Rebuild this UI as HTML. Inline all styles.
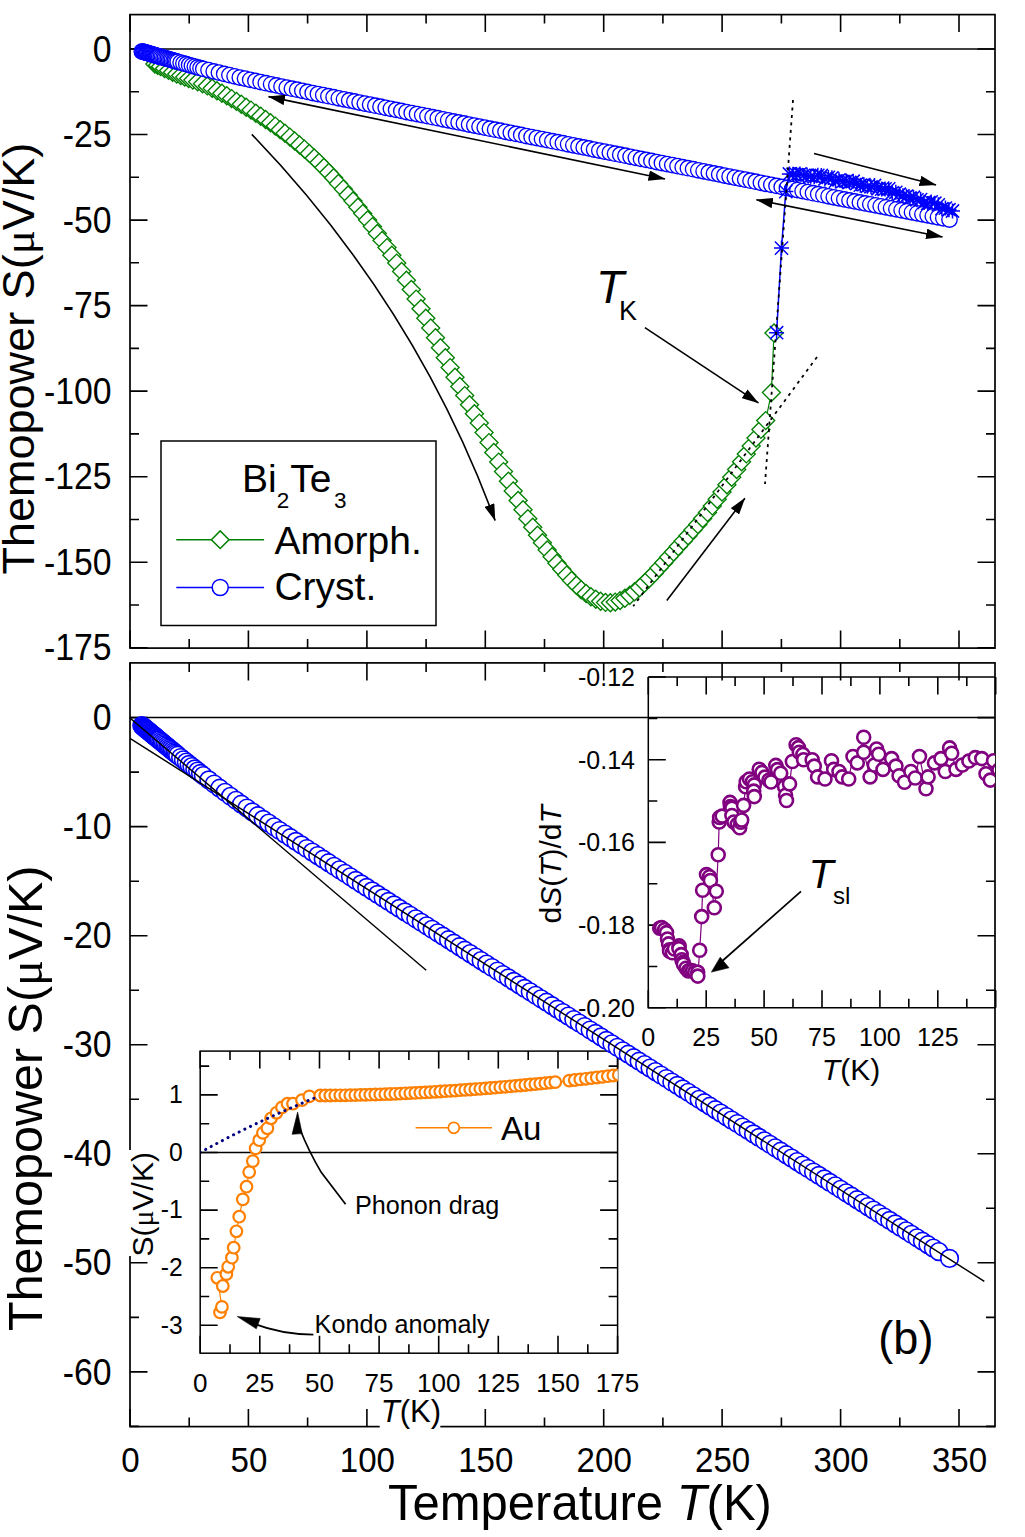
<!DOCTYPE html><html><head><meta charset="utf-8"><style>html,body{margin:0;padding:0;background:#fff;width:1025px;height:1537px;overflow:hidden}</style></head><body><svg width="1025" height="1537" viewBox="0 0 1025 1537" style="position:absolute;left:0;top:0">
<rect width="100%" height="100%" fill="#fff"/>
<defs><clipPath id="cTop"><rect x="130" y="14.6" width="865" height="633.5"/></clipPath>
<clipPath id="cBot"><rect x="130" y="662.9" width="865" height="763.7"/></clipPath>
<marker id="ah" viewBox="0 0 17 10.5" refX="16.5" refY="5.25" markerWidth="17" markerHeight="10.5" markerUnits="userSpaceOnUse" orient="auto-start-reverse"><path d="M0,0 L17,5.25 L0,10.5 z" fill="#000"/></marker>
</defs>
<rect x="130" y="14.6" width="865" height="633.5" fill="none" stroke="#000" stroke-width="1.7"/>
<path d="M130,14.6V32.1M248.4,14.6V32.1M366.9,14.6V32.1M485.3,14.6V32.1M603.7,14.6V32.1M722.1,14.6V32.1M840.6,14.6V32.1M959,14.6V32.1M189.2,14.6V23.6M307.6,14.6V23.6M426.1,14.6V23.6M544.5,14.6V23.6M662.9,14.6V23.6M781.4,14.6V23.6M899.8,14.6V23.6" stroke="#000" stroke-width="1.6" fill="none"/>
<path d="M130,648.1V630.6M248.4,648.1V630.6M366.9,648.1V630.6M485.3,648.1V630.6M603.7,648.1V630.6M722.1,648.1V630.6M840.6,648.1V630.6M959,648.1V630.6M189.2,648.1V639.1M307.6,648.1V639.1M426.1,648.1V639.1M544.5,648.1V639.1M662.9,648.1V639.1M781.4,648.1V639.1M899.8,648.1V639.1" stroke="#000" stroke-width="1.6" fill="none"/>
<path d="M130,49H147.5M130,134.5H147.5M130,220.1H147.5M130,305.6H147.5M130,391.1H147.5M130,476.7H147.5M130,562.2H147.5M130,647.8H147.5M130,91.7H139M130,177.3H139M130,262.8H139M130,348.4H139M130,433.9H139M130,519.5H139M130,605H139" stroke="#000" stroke-width="1.6" fill="none"/>
<path d="M995,49H977.5M995,134.5H977.5M995,220.1H977.5M995,305.6H977.5M995,391.1H977.5M995,476.7H977.5M995,562.2H977.5M995,647.8H977.5M995,91.7H986M995,177.3H986M995,262.8H986M995,348.4H986M995,433.9H986M995,519.5H986M995,605H986" stroke="#000" stroke-width="1.6" fill="none"/>
<text transform="translate(111.5,61.6) scale(0.93,1)" font-family="Liberation Sans" font-size="36.3" text-anchor="end">0</text>
<text transform="translate(111.5,147.1) scale(0.93,1)" font-family="Liberation Sans" font-size="36.3" text-anchor="end">-25</text>
<text transform="translate(111.5,232.7) scale(0.93,1)" font-family="Liberation Sans" font-size="36.3" text-anchor="end">-50</text>
<text transform="translate(111.5,318.2) scale(0.93,1)" font-family="Liberation Sans" font-size="36.3" text-anchor="end">-75</text>
<text transform="translate(111.5,403.8) scale(0.93,1)" font-family="Liberation Sans" font-size="36.3" text-anchor="end">-100</text>
<text transform="translate(111.5,489.3) scale(0.93,1)" font-family="Liberation Sans" font-size="36.3" text-anchor="end">-125</text>
<text transform="translate(111.5,574.9) scale(0.93,1)" font-family="Liberation Sans" font-size="36.3" text-anchor="end">-150</text>
<text transform="translate(111.5,660.4) scale(0.93,1)" font-family="Liberation Sans" font-size="36.3" text-anchor="end">-175</text>
<g clip-path="url(#cTop)">
<path d="M130,49H995" stroke="#000" stroke-width="1.5"/>
<path d="M760.9,429.4 L765.7,420.6 L771.4,392.5 L774,333" stroke="#008000" stroke-width="1.2" fill="none"/>
<g stroke="#008000" stroke-width="1.35" fill="#fff"><path d="M145.9,64L154.9,55L163.9,64L154.9,73Z"/><path d="M148.7,65.3L157.7,56.3L166.7,65.3L157.7,74.3Z"/><path d="M151.6,66.6L160.6,57.6L169.6,66.6L160.6,75.6Z"/><path d="M155.6,68.5L164.6,59.5L173.6,68.5L164.6,77.5Z"/><path d="M159.6,70.4L168.6,61.4L177.6,70.4L168.6,79.4Z"/><path d="M163.6,72.2L172.6,63.2L181.6,72.2L172.6,81.2Z"/><path d="M167.7,74L176.7,65L185.7,74L176.7,83Z"/><path d="M171.7,75.6L180.7,66.6L189.7,75.6L180.7,84.6Z"/><path d="M175.7,77.1L184.7,68.1L193.7,77.1L184.7,86.1Z"/><path d="M179.7,78.6L188.7,69.6L197.7,78.6L188.7,87.6Z"/><path d="M183.8,80L192.8,71L201.8,80L192.8,89Z"/><path d="M188.6,81.8L197.6,72.8L206.6,81.8L197.6,90.8Z"/><path d="M193.5,83.7L202.5,74.7L211.5,83.7L202.5,92.7Z"/><path d="M198.3,85.9L207.3,76.9L216.3,85.9L207.3,94.9Z"/><path d="M203.2,88.2L212.2,79.2L221.2,88.2L212.2,97.2Z"/><path d="M208,90.7L217,81.7L226,90.7L217,99.7Z"/><path d="M212.9,93.2L221.9,84.2L230.9,93.2L221.9,102.2Z"/><path d="M217.8,95.8L226.8,86.8L235.8,95.8L226.8,104.8Z"/><path d="M222.6,98.6L231.6,89.6L240.6,98.6L231.6,107.6Z"/><path d="M227.5,101.4L236.5,92.4L245.5,101.4L236.5,110.4Z"/><path d="M232.3,104.2L241.3,95.2L250.3,104.2L241.3,113.2Z"/><path d="M237.2,107.2L246.2,98.2L255.2,107.2L246.2,116.2Z"/><path d="M242,110.1L251,101.1L260,110.1L251,119.1Z"/><path d="M246.9,113.2L255.9,104.2L264.9,113.2L255.9,122.2Z"/><path d="M251.7,116.3L260.7,107.3L269.7,116.3L260.7,125.3Z"/><path d="M256.6,119.5L265.6,110.5L274.6,119.5L265.6,128.5Z"/><path d="M261.5,122.7L270.5,113.7L279.5,122.7L270.5,131.7Z"/><path d="M266.3,126.1L275.3,117.1L284.3,126.1L275.3,135.1Z"/><path d="M271.2,129.7L280.2,120.7L289.2,129.7L280.2,138.7Z"/><path d="M276,133.3L285,124.3L294,133.3L285,142.3Z"/><path d="M280.9,137.1L289.9,128.1L298.9,137.1L289.9,146.1Z"/><path d="M285.7,141L294.7,132L303.7,141L294.7,150Z"/><path d="M290.6,145L299.6,136L308.6,145L299.6,154Z"/><path d="M295.4,149.1L304.4,140.1L313.4,149.1L304.4,158.1Z"/><path d="M300.3,153.4L309.3,144.4L318.3,153.4L309.3,162.4Z"/><path d="M305.2,157.9L314.2,148.9L323.2,157.9L314.2,166.9Z"/><path d="M310,162.5L319,153.5L328,162.5L319,171.5Z"/><path d="M314.9,167.4L323.9,158.4L332.9,167.4L323.9,176.4Z"/><path d="M319.7,172.5L328.7,163.5L337.7,172.5L328.7,181.5Z"/><path d="M324.6,177.8L333.6,168.8L342.6,177.8L333.6,186.8Z"/><path d="M329.4,183.4L338.4,174.4L347.4,183.4L338.4,192.4Z"/><path d="M334.3,189.1L343.3,180.1L352.3,189.1L343.3,198.1Z"/><path d="M339.1,195L348.1,186L357.1,195L348.1,204Z"/><path d="M344,201L353,192L362,201L353,210Z"/><path d="M348.9,207.2L357.9,198.2L366.9,207.2L357.9,216.2Z"/><path d="M353.7,213.6L362.7,204.6L371.7,213.6L362.7,222.6Z"/><path d="M358.6,220L367.6,211L376.6,220L367.6,229Z"/><path d="M363.4,226.6L372.4,217.6L381.4,226.6L372.4,235.6Z"/><path d="M368.3,233.4L377.3,224.4L386.3,233.4L377.3,242.4Z"/><path d="M373.1,240.4L382.1,231.4L391.1,240.4L382.1,249.4Z"/><path d="M378,247.6L387,238.6L396,247.6L387,256.6Z"/><path d="M382.8,255.2L391.8,246.2L400.8,255.2L391.8,264.2Z"/><path d="M387.7,263.1L396.7,254.1L405.7,263.1L396.7,272.1Z"/><path d="M392.6,271.4L401.6,262.4L410.6,271.4L401.6,280.4Z"/><path d="M397.4,280.3L406.4,271.3L415.4,280.3L406.4,289.3Z"/><path d="M402.3,289.5L411.3,280.5L420.3,289.5L411.3,298.5Z"/><path d="M407.1,299.1L416.1,290.1L425.1,299.1L416.1,308.1Z"/><path d="M412,308.7L421,299.7L430,308.7L421,317.7Z"/><path d="M416.8,318.3L425.8,309.3L434.8,318.3L425.8,327.3Z"/><path d="M421.7,327.9L430.7,318.9L439.7,327.9L430.7,336.9Z"/><path d="M426.5,337.8L435.5,328.8L444.5,337.8L435.5,346.8Z"/><path d="M431.4,347.8L440.4,338.8L449.4,347.8L440.4,356.8Z"/><path d="M436.3,357.8L445.3,348.8L454.3,357.8L445.3,366.8Z"/><path d="M441.1,367.6L450.1,358.6L459.1,367.6L450.1,376.6Z"/><path d="M446,377.2L455,368.2L464,377.2L455,386.2Z"/><path d="M450.8,386.5L459.8,377.5L468.8,386.5L459.8,395.5Z"/><path d="M455.7,395.6L464.7,386.6L473.7,395.6L464.7,404.6Z"/><path d="M460.5,404.7L469.5,395.7L478.5,404.7L469.5,413.7Z"/><path d="M465.4,413.8L474.4,404.8L483.4,413.8L474.4,422.8Z"/><path d="M470.3,423.1L479.3,414.1L488.3,423.1L479.3,432.1Z"/><path d="M475.1,432.6L484.1,423.6L493.1,432.6L484.1,441.6Z"/><path d="M480,442.6L489,433.6L498,442.6L489,451.6Z"/><path d="M484.8,452.5L493.8,443.5L502.8,452.5L493.8,461.5Z"/><path d="M489.7,462.1L498.7,453.1L507.7,462.1L498.7,471.1Z"/><path d="M494.5,471.6L503.5,462.6L512.5,471.6L503.5,480.6Z"/><path d="M499.4,481.3L508.4,472.3L517.4,481.3L508.4,490.3Z"/><path d="M504.2,490.9L513.2,481.9L522.2,490.9L513.2,499.9Z"/><path d="M509.1,500.5L518.1,491.5L527.1,500.5L518.1,509.5Z"/><path d="M514,509.8L523,500.8L532,509.8L523,518.8Z"/><path d="M518.8,518.8L527.8,509.8L536.8,518.8L527.8,527.8Z"/><path d="M523.7,527.3L532.7,518.3L541.7,527.3L532.7,536.3Z"/><path d="M528.5,535.2L537.5,526.2L546.5,535.2L537.5,544.2Z"/><path d="M533.4,542.7L542.4,533.7L551.4,542.7L542.4,551.7Z"/><path d="M538.2,549.9L547.2,540.9L556.2,549.9L547.2,558.9Z"/><path d="M543.1,556.8L552.1,547.8L561.1,556.8L552.1,565.8Z"/><path d="M547.9,563.2L556.9,554.2L565.9,563.2L556.9,572.2Z"/><path d="M552.8,569.3L561.8,560.3L570.8,569.3L561.8,578.3Z"/><path d="M557.7,575.1L566.7,566.1L575.7,575.1L566.7,584.1Z"/><path d="M562.5,580.4L571.5,571.4L580.5,580.4L571.5,589.4Z"/><path d="M567.4,585.3L576.4,576.3L585.4,585.3L576.4,594.3Z"/><path d="M572.2,589.7L581.2,580.7L590.2,589.7L581.2,598.7Z"/><path d="M577.1,593.5L586.1,584.5L595.1,593.5L586.1,602.5Z"/><path d="M581.9,596.8L590.9,587.8L599.9,596.8L590.9,605.8Z"/><path d="M586.8,599.3L595.8,590.3L604.8,599.3L595.8,608.3Z"/><path d="M591.6,601.2L600.6,592.2L609.6,601.2L600.6,610.2Z"/><path d="M596.5,602.4L605.5,593.4L614.5,602.4L605.5,611.4Z"/><path d="M601.4,602.8L610.4,593.8L619.4,602.8L610.4,611.8Z"/><path d="M606.2,602.1L615.2,593.1L624.2,602.1L615.2,611.1Z"/><path d="M611.1,600.6L620.1,591.6L629.1,600.6L620.1,609.6Z"/><path d="M615.9,598.2L624.9,589.2L633.9,598.2L624.9,607.2Z"/><path d="M620.8,595.3L629.8,586.3L638.8,595.3L629.8,604.3Z"/><path d="M625.6,591.7L634.6,582.7L643.6,591.7L634.6,600.7Z"/><path d="M630.5,587.8L639.5,578.8L648.5,587.8L639.5,596.8Z"/><path d="M635.3,583.3L644.3,574.3L653.3,583.3L644.3,592.3Z"/><path d="M640.2,578.5L649.2,569.5L658.2,578.5L649.2,587.5Z"/><path d="M645.1,573.4L654.1,564.4L663.1,573.4L654.1,582.4Z"/><path d="M649.9,568.1L658.9,559.1L667.9,568.1L658.9,577.1Z"/><path d="M654.8,562.7L663.8,553.7L672.8,562.7L663.8,571.7Z"/><path d="M659.6,557.3L668.6,548.3L677.6,557.3L668.6,566.3Z"/><path d="M664.5,551.9L673.5,542.9L682.5,551.9L673.5,560.9Z"/><path d="M669.3,546.5L678.3,537.5L687.3,546.5L678.3,555.5Z"/><path d="M674.2,541.1L683.2,532.1L692.2,541.1L683.2,550.1Z"/><path d="M679,535.7L688,526.7L697,535.7L688,544.7Z"/><path d="M683.9,530.1L692.9,521.1L701.9,530.1L692.9,539.1Z"/><path d="M688.8,524.4L697.8,515.4L706.8,524.4L697.8,533.4Z"/><path d="M693.6,518.5L702.6,509.5L711.6,518.5L702.6,527.5Z"/><path d="M698.5,512.4L707.5,503.4L716.5,512.4L707.5,521.4Z"/><path d="M703.3,505.9L712.3,496.9L721.3,505.9L712.3,514.9Z"/><path d="M708.2,499.2L717.2,490.2L726.2,499.2L717.2,508.2Z"/><path d="M713,492.1L722,483.1L731,492.1L722,501.1Z"/><path d="M717.9,484.8L726.9,475.8L735.9,484.8L726.9,493.8Z"/><path d="M722.7,477.2L731.7,468.2L740.7,477.2L731.7,486.2Z"/><path d="M727.6,469.5L736.6,460.5L745.6,469.5L736.6,478.5Z"/><path d="M732.5,461.8L741.5,452.8L750.5,461.8L741.5,470.8Z"/><path d="M737.3,453.9L746.3,444.9L755.3,453.9L746.3,462.9Z"/><path d="M742.2,446.1L751.2,437.1L760.2,446.1L751.2,455.1Z"/><path d="M747,438L756,429L765,438L756,447Z"/><path d="M751.9,429.4L760.9,420.4L769.9,429.4L760.9,438.4Z"/><path d="M756.7,420.6L765.7,411.6L774.7,420.6L765.7,429.6Z"/><path d="M762.4,392.5L771.4,383.5L780.4,392.5L771.4,401.5Z"/><path d="M765,333L774,324L783,333L774,342Z"/></g>
<g stroke="#0000ff" stroke-width="1.35" fill="#fff"><circle cx="141.8" cy="51.5" r="7.7"/><circle cx="142.7" cy="51.7" r="7.7"/><circle cx="143.5" cy="51.9" r="7.7"/><circle cx="144.3" cy="52.2" r="7.7"/><circle cx="145.2" cy="52.4" r="7.7"/><circle cx="146" cy="52.7" r="7.7"/><circle cx="146.8" cy="52.9" r="7.7"/><circle cx="147.6" cy="53.1" r="7.7"/><circle cx="148.5" cy="53.4" r="7.7"/><circle cx="149.3" cy="53.6" r="7.7"/><circle cx="150.1" cy="53.9" r="7.7"/><circle cx="151" cy="54.1" r="7.7"/><circle cx="151.8" cy="54.3" r="7.7"/><circle cx="152.6" cy="54.6" r="7.7"/><circle cx="153.4" cy="54.8" r="7.7"/><circle cx="154.3" cy="55.1" r="7.7"/><circle cx="155.1" cy="55.3" r="7.7"/><circle cx="155.9" cy="55.5" r="7.7"/><circle cx="156.8" cy="55.8" r="7.7"/><circle cx="157.6" cy="56" r="7.7"/><circle cx="158.4" cy="56.3" r="7.7"/><circle cx="159.3" cy="56.5" r="7.7"/><circle cx="160.7" cy="56.9" r="7.7"/><circle cx="162.1" cy="57.3" r="7.7"/><circle cx="163.5" cy="57.7" r="7.7"/><circle cx="164.9" cy="58.1" r="7.7"/><circle cx="166.4" cy="58.5" r="7.7"/><circle cx="167.8" cy="58.9" r="7.7"/><circle cx="169.2" cy="59.4" r="7.7"/><circle cx="170.6" cy="59.8" r="7.7"/><circle cx="172" cy="60.2" r="7.7"/><circle cx="173.5" cy="60.6" r="7.7"/><circle cx="174.9" cy="61" r="7.7"/><circle cx="176.3" cy="61.4" r="7.7"/><circle cx="177.7" cy="61.8" r="7.7"/><circle cx="180.6" cy="62.6" r="7.7"/><circle cx="183.4" cy="63.4" r="7.7"/><circle cx="186.3" cy="64.2" r="7.7"/><circle cx="189.1" cy="65" r="7.7"/><circle cx="191.9" cy="65.8" r="7.7"/><circle cx="194.8" cy="66.6" r="7.7"/><circle cx="197.6" cy="67.4" r="7.7"/><circle cx="200.5" cy="68.2" r="7.7"/><circle cx="203.3" cy="68.9" r="7.7"/><circle cx="208.5" cy="70.1" r="7.7"/><circle cx="213.7" cy="71.4" r="7.7"/><circle cx="218.9" cy="72.6" r="7.7"/><circle cx="224.2" cy="73.9" r="7.7"/><circle cx="229.4" cy="75.1" r="7.7"/><circle cx="234.6" cy="76.3" r="7.7"/><circle cx="239.8" cy="77.5" r="7.7"/><circle cx="245" cy="78.6" r="7.7"/><circle cx="250.2" cy="79.8" r="7.7"/><circle cx="255.4" cy="80.9" r="7.7"/><circle cx="260.6" cy="82" r="7.7"/><circle cx="265.8" cy="83.2" r="7.7"/><circle cx="271.1" cy="84.3" r="7.7"/><circle cx="276.3" cy="85.4" r="7.7"/><circle cx="281.5" cy="86.5" r="7.7"/><circle cx="286.7" cy="87.6" r="7.7"/><circle cx="291.9" cy="88.7" r="7.7"/><circle cx="297.1" cy="89.7" r="7.7"/><circle cx="302.3" cy="90.8" r="7.7"/><circle cx="307.5" cy="91.9" r="7.7"/><circle cx="312.7" cy="93" r="7.7"/><circle cx="317.9" cy="94" r="7.7"/><circle cx="323.2" cy="95.1" r="7.7"/><circle cx="328.4" cy="96.2" r="7.7"/><circle cx="333.6" cy="97.2" r="7.7"/><circle cx="338.8" cy="98.3" r="7.7"/><circle cx="344" cy="99.3" r="7.7"/><circle cx="349.2" cy="100.4" r="7.7"/><circle cx="354.4" cy="101.4" r="7.7"/><circle cx="359.6" cy="102.5" r="7.7"/><circle cx="364.8" cy="103.6" r="7.7"/><circle cx="370.1" cy="104.6" r="7.7"/><circle cx="375.3" cy="105.7" r="7.7"/><circle cx="380.5" cy="106.7" r="7.7"/><circle cx="385.7" cy="107.8" r="7.7"/><circle cx="390.9" cy="108.8" r="7.7"/><circle cx="396.1" cy="109.9" r="7.7"/><circle cx="401.3" cy="110.9" r="7.7"/><circle cx="406.5" cy="112" r="7.7"/><circle cx="411.7" cy="113" r="7.7"/><circle cx="417" cy="114" r="7.7"/><circle cx="422.2" cy="115.1" r="7.7"/><circle cx="427.4" cy="116.1" r="7.7"/><circle cx="432.6" cy="117.2" r="7.7"/><circle cx="437.8" cy="118.2" r="7.7"/><circle cx="443" cy="119.3" r="7.7"/><circle cx="448.2" cy="120.3" r="7.7"/><circle cx="453.4" cy="121.4" r="7.7"/><circle cx="458.6" cy="122.4" r="7.7"/><circle cx="463.9" cy="123.4" r="7.7"/><circle cx="469.1" cy="124.5" r="7.7"/><circle cx="474.3" cy="125.5" r="7.7"/><circle cx="479.5" cy="126.6" r="7.7"/><circle cx="484.7" cy="127.6" r="7.7"/><circle cx="489.9" cy="128.7" r="7.7"/><circle cx="495.1" cy="129.7" r="7.7"/><circle cx="500.3" cy="130.7" r="7.7"/><circle cx="505.5" cy="131.8" r="7.7"/><circle cx="510.8" cy="132.8" r="7.7"/><circle cx="516" cy="133.9" r="7.7"/><circle cx="521.2" cy="134.9" r="7.7"/><circle cx="526.4" cy="136" r="7.7"/><circle cx="531.6" cy="137" r="7.7"/><circle cx="536.8" cy="138" r="7.7"/><circle cx="542" cy="139.1" r="7.7"/><circle cx="547.2" cy="140.1" r="7.7"/><circle cx="552.4" cy="141.2" r="7.7"/><circle cx="557.7" cy="142.2" r="7.7"/><circle cx="562.9" cy="143.2" r="7.7"/><circle cx="568.1" cy="144.3" r="7.7"/><circle cx="573.3" cy="145.3" r="7.7"/><circle cx="578.5" cy="146.4" r="7.7"/><circle cx="583.7" cy="147.4" r="7.7"/><circle cx="588.9" cy="148.4" r="7.7"/><circle cx="594.1" cy="149.5" r="7.7"/><circle cx="599.3" cy="150.5" r="7.7"/><circle cx="604.5" cy="151.6" r="7.7"/><circle cx="609.8" cy="152.6" r="7.7"/><circle cx="615" cy="153.7" r="7.7"/><circle cx="620.2" cy="154.7" r="7.7"/><circle cx="625.4" cy="155.7" r="7.7"/><circle cx="630.6" cy="156.8" r="7.7"/><circle cx="635.8" cy="157.8" r="7.7"/><circle cx="641" cy="158.9" r="7.7"/><circle cx="646.2" cy="159.9" r="7.7"/><circle cx="651.4" cy="160.9" r="7.7"/><circle cx="656.7" cy="162" r="7.7"/><circle cx="661.9" cy="163" r="7.7"/><circle cx="667.1" cy="164.1" r="7.7"/><circle cx="672.3" cy="165.1" r="7.7"/><circle cx="677.5" cy="166.1" r="7.7"/><circle cx="682.7" cy="167.2" r="7.7"/><circle cx="687.9" cy="168.2" r="7.7"/><circle cx="693.1" cy="169.2" r="7.7"/><circle cx="698.3" cy="170.3" r="7.7"/><circle cx="703.6" cy="171.3" r="7.7"/><circle cx="708.8" cy="172.4" r="7.7"/><circle cx="714" cy="173.4" r="7.7"/><circle cx="719.2" cy="174.4" r="7.7"/><circle cx="724.4" cy="175.5" r="7.7"/><circle cx="729.6" cy="176.5" r="7.7"/><circle cx="734.8" cy="177.6" r="7.7"/><circle cx="740" cy="178.6" r="7.7"/><circle cx="745.2" cy="179.6" r="7.7"/><circle cx="750.5" cy="180.7" r="7.7"/><circle cx="755.7" cy="181.7" r="7.7"/><circle cx="760.9" cy="182.8" r="7.7"/><circle cx="766.1" cy="183.8" r="7.7"/><circle cx="771.3" cy="184.8" r="7.7"/><circle cx="776.5" cy="185.9" r="7.7"/><circle cx="781.7" cy="186.9" r="7.7"/><circle cx="786.9" cy="188" r="7.7"/><circle cx="792.1" cy="189" r="7.7"/><circle cx="797.4" cy="190" r="7.7"/><circle cx="802.6" cy="191.1" r="7.7"/><circle cx="807.8" cy="192.1" r="7.7"/><circle cx="813" cy="193.2" r="7.7"/><circle cx="818.2" cy="194.2" r="7.7"/><circle cx="823.4" cy="195.2" r="7.7"/><circle cx="828.6" cy="196.3" r="7.7"/><circle cx="833.8" cy="197.3" r="7.7"/><circle cx="839" cy="198.3" r="7.7"/><circle cx="844.3" cy="199.4" r="7.7"/><circle cx="849.5" cy="200.4" r="7.7"/><circle cx="854.7" cy="201.4" r="7.7"/><circle cx="859.9" cy="202.4" r="7.7"/><circle cx="865.1" cy="203.4" r="7.7"/><circle cx="870.3" cy="204.3" r="7.7"/><circle cx="875.5" cy="205.3" r="7.7"/><circle cx="880.7" cy="206.3" r="7.7"/><circle cx="885.9" cy="207.3" r="7.7"/><circle cx="891.1" cy="208.3" r="7.7"/><circle cx="896.4" cy="209.3" r="7.7"/><circle cx="901.6" cy="210.3" r="7.7"/><circle cx="906.8" cy="211.3" r="7.7"/><circle cx="912" cy="212.3" r="7.7"/><circle cx="917.2" cy="213.3" r="7.7"/><circle cx="922.4" cy="214.3" r="7.7"/><circle cx="927.6" cy="215.3" r="7.7"/><circle cx="932.8" cy="216.3" r="7.7"/><circle cx="938" cy="217.3" r="7.7"/><circle cx="943.3" cy="218.3" r="7.7"/><circle cx="949.5" cy="219.5" r="7.7"/></g>
<path d="M776.6,332.7 L781.5,248.1 L785.8,191.6 L789.4,174" stroke="#0000ff" stroke-width="1.5" fill="none"/>
<path d="M769.1,332.7H784.1M770,326.1L783.2,339.3M770,339.3L783.2,326.1M776.6,325.2V340.2M774,248.1H789M774.9,241.5L788.1,254.7M774.9,254.7L788.1,241.5M781.5,240.6V255.6M778.3,191.6H793.3M779.2,185L792.4,198.2M779.2,198.2L792.4,185M785.8,184.1V199.1M781.9,174H796.9M782.8,167.4L796,180.6M782.8,180.6L796,167.4M789.4,166.5V181.5M785.4,174.3H800.4M786.3,167.7L799.5,180.9M786.3,180.9L799.5,167.7M792.9,166.8V181.8M789,174.6H804M789.9,168L803.1,181.2M789.9,181.2L803.1,168M796.5,167.1V182.1M792.5,173.9H807.5M793.4,167.3L806.6,180.5M793.4,180.5L806.6,167.3M800,166.4V181.4M796.1,175.4H811.1M797,168.8L810.2,182M797,182L810.2,168.8M803.6,167.9V182.9M799.6,175.1H814.6M800.5,168.5L813.7,181.7M800.5,181.7L813.7,168.5M807.1,167.6V182.6M803.2,176.3H818.2M804.1,169.7L817.3,182.9M804.1,182.9L817.3,169.7M810.7,168.8V183.8M806.7,176.8H821.7M807.6,170.2L820.8,183.4M807.6,183.4L820.8,170.2M814.2,169.3V184.3M810.3,175.3H825.3M811.2,168.7L824.4,181.9M811.2,181.9L824.4,168.7M817.8,167.8V182.8M813.8,175.5H828.8M814.7,168.9L827.9,182.1M814.7,182.1L827.9,168.9M821.3,168V183M817.4,179H832.4M818.3,172.4L831.5,185.6M818.3,185.6L831.5,172.4M824.9,171.5V186.5M820.9,177.4H835.9M821.8,170.8L835,184M821.8,184L835,170.8M828.4,169.9V184.9M824.4,177.8H839.4M825.3,171.2L838.5,184.4M825.3,184.4L838.5,171.2M831.9,170.3V185.3M828,181.1H843M828.9,174.5L842.1,187.7M828.9,187.7L842.1,174.5M835.5,173.6V188.6M831.5,179.8H846.5M832.4,173.2L845.6,186.4M832.4,186.4L845.6,173.2M839,172.3V187.3M835.1,181.7H850.1M836,175.1L849.2,188.3M836,188.3L849.2,175.1M842.6,174.2V189.2M838.6,181.1H853.6M839.5,174.5L852.7,187.7M839.5,187.7L852.7,174.5M846.1,173.6V188.6M842.2,182.3H857.2M843.1,175.7L856.3,188.9M843.1,188.9L856.3,175.7M849.7,174.8V189.8M845.7,181.2H860.7M846.6,174.6L859.8,187.8M846.6,187.8L859.8,174.6M853.2,173.7V188.7M849.3,183.7H864.3M850.2,177.1L863.4,190.3M850.2,190.3L863.4,177.1M856.8,176.2V191.2M852.8,185.2H867.8M853.7,178.6L866.9,191.8M853.7,191.8L866.9,178.6M860.3,177.7V192.7M856.4,184.7H871.4M857.3,178.1L870.5,191.3M857.3,191.3L870.5,178.1M863.9,177.2V192.2M859.9,186.3H874.9M860.8,179.7L874,192.9M860.8,192.9L874,179.7M867.4,178.8V193.8M863.5,186.8H878.5M864.4,180.2L877.6,193.4M864.4,193.4L877.6,180.2M871,179.3V194.3M867,185.5H882M867.9,178.9L881.1,192.1M867.9,192.1L881.1,178.9M874.5,178V193M870.5,188.8H885.5M871.4,182.2L884.6,195.4M871.4,195.4L884.6,182.2M878,181.3V196.3M874.1,189.1H889.1M875,182.5L888.2,195.7M875,195.7L888.2,182.5M881.6,181.6V196.6M877.6,188.9H892.6M878.5,182.3L891.7,195.5M878.5,195.5L891.7,182.3M885.1,181.4V196.4M881.2,188.8H896.2M882.1,182.2L895.3,195.4M882.1,195.4L895.3,182.2M888.7,181.3V196.3M884.7,192.8H899.7M885.6,186.2L898.8,199.4M885.6,199.4L898.8,186.2M892.2,185.3V200.3M888.3,192.3H903.3M889.2,185.7L902.4,198.9M889.2,198.9L902.4,185.7M895.8,184.8V199.8M891.8,194.2H906.8M892.7,187.6L905.9,200.8M892.7,200.8L905.9,187.6M899.3,186.7V201.7M895.4,195.8H910.4M896.3,189.2L909.5,202.4M896.3,202.4L909.5,189.2M902.9,188.3V203.3M898.9,196.2H913.9M899.8,189.6L913,202.8M899.8,202.8L913,189.6M906.4,188.7V203.7M902.5,198H917.5M903.4,191.4L916.6,204.6M903.4,204.6L916.6,191.4M910,190.5V205.5M906,197.2H921M906.9,190.6L920.1,203.8M906.9,203.8L920.1,190.6M913.5,189.7V204.7M909.5,199.8H924.5M910.4,193.2L923.6,206.4M910.4,206.4L923.6,193.2M917,192.3V207.3M913.1,199.6H928.1M914,193L927.2,206.2M914,206.2L927.2,193M920.6,192.1V207.1M916.6,202.5H931.6M917.5,195.9L930.7,209.1M917.5,209.1L930.7,195.9M924.1,195V210M920.2,203.5H935.2M921.1,196.9L934.3,210.1M921.1,210.1L934.3,196.9M927.7,196V211M923.7,201.9H938.7M924.6,195.3L937.8,208.5M924.6,208.5L937.8,195.3M931.2,194.4V209.4M927.3,203.2H942.3M928.2,196.6L941.4,209.8M928.2,209.8L941.4,196.6M934.8,195.7V210.7M930.8,204.8H945.8M931.7,198.2L944.9,211.4M931.7,211.4L944.9,198.2M938.3,197.3V212.3M934.4,208.7H949.4M935.3,202.1L948.5,215.3M935.3,215.3L948.5,202.1M941.9,201.2V216.2M937.9,208.1H952.9M938.8,201.5L952,214.7M938.8,214.7L952,201.5M945.4,200.6V215.6M941.5,209.7H956.5M942.4,203.1L955.6,216.3M942.4,216.3L955.6,203.1M949,202.2V217.2M945,211H960M945.9,204.4L959.1,217.6M945.9,217.6L959.1,204.4M952.5,203.5V218.5" stroke="#0000ff" stroke-width="1.5" fill="none"/>
<path d="M793,100 L765,484" stroke="#000" stroke-width="1.8" stroke-dasharray="3,4.5" fill="none"/>
<path d="M817,357 L633.2,606.3" stroke="#000" stroke-width="1.8" stroke-dasharray="3,4.5" fill="none"/>
</g>
<path d="M665,179 L268.5,96.6" stroke="#000" stroke-width="1.6" fill="none" marker-start="url(#ah)" marker-end="url(#ah)"/>
<path d="M814,153.6 L936,185" stroke="#000" stroke-width="1.6" fill="none" marker-end="url(#ah)"/>
<path d="M756.4,199.8 L942.5,237" stroke="#000" stroke-width="1.6" fill="none" marker-start="url(#ah)" marker-end="url(#ah)"/>
<path d="M251.8,134.4 Q415,303.6 495.1,520.5" stroke="#000" stroke-width="1.6" fill="none" marker-end="url(#ah)"/>
<path d="M666.8,600.5 L744.9,498.2" stroke="#000" stroke-width="1.6" fill="none" marker-end="url(#ah)"/>
<path d="M644.9,327.7 L758.4,402.9" stroke="#000" stroke-width="1.6" fill="none" marker-end="url(#ah)"/>
<text x="596" y="302.5" font-family="Liberation Sans" font-size="46" font-style="italic">T</text>
<text x="619" y="319.5" font-family="Liberation Sans" font-size="27">K</text>
<rect x="161" y="441" width="275" height="184.5" fill="#fff" stroke="#000" stroke-width="1.5"/>
<text x="242" y="492" font-family="Liberation Sans" font-size="39">Bi<tspan font-size="22.5" dy="15.5">2</tspan><tspan dy="-15.5" dx="1">Te</tspan><tspan font-size="22.5" dy="15.5" dx="2.5">3</tspan></text>
<path d="M176.3,539.7H264.1" stroke="#008000" stroke-width="1.5"/>
<path d="M211.4,539.7L220.2,530.9L229,539.7L220.2,548.5Z" stroke="#008000" stroke-width="1.5" fill="#fff"/>
<text x="274.4" y="553.5" font-family="Liberation Sans" font-size="39">Amorph.</text>
<path d="M176.3,587.5H264.1" stroke="#0000ff" stroke-width="1.5"/>
<circle cx="220.2" cy="587.5" r="8" stroke="#0000ff" stroke-width="1.5" fill="#fff"/>
<text x="274.4" y="600.3" font-family="Liberation Sans" font-size="39">Cryst.</text>
<path d="M130,717.6H995" stroke="#000" stroke-width="1.5"/>
<rect x="130" y="662.9" width="865" height="763.7" fill="none" stroke="#000" stroke-width="1.7"/>
<path d="M130,662.9V680.4M248.4,662.9V680.4M366.9,662.9V680.4M485.3,662.9V680.4M603.7,662.9V680.4M722.1,662.9V680.4M840.6,662.9V680.4M959,662.9V680.4M189.2,662.9V671.9M307.6,662.9V671.9M426.1,662.9V671.9M544.5,662.9V671.9M662.9,662.9V671.9M781.4,662.9V671.9M899.8,662.9V671.9" stroke="#000" stroke-width="1.6" fill="none"/>
<path d="M130,1426.6V1409.1M248.4,1426.6V1409.1M366.9,1426.6V1409.1M485.3,1426.6V1409.1M603.7,1426.6V1409.1M722.1,1426.6V1409.1M840.6,1426.6V1409.1M959,1426.6V1409.1M189.2,1426.6V1417.6M307.6,1426.6V1417.6M426.1,1426.6V1417.6M544.5,1426.6V1417.6M662.9,1426.6V1417.6M781.4,1426.6V1417.6M899.8,1426.6V1417.6" stroke="#000" stroke-width="1.6" fill="none"/>
<path d="M130,717.6H147.5M130,826.6H147.5M130,935.7H147.5M130,1044.8H147.5M130,1153.8H147.5M130,1262.8H147.5M130,1371.9H147.5M130,772.1H139M130,881.2H139M130,990.2H139M130,1099.3H139M130,1208.3H139M130,1317.4H139M130,1426.4H139" stroke="#000" stroke-width="1.6" fill="none"/>
<path d="M995,717.6H977.5M995,826.6H977.5M995,935.7H977.5M995,1044.8H977.5M995,1153.8H977.5M995,1262.8H977.5M995,1371.9H977.5M995,772.1H986M995,881.2H986M995,990.2H986M995,1099.3H986M995,1208.3H986M995,1317.4H986M995,1426.4H986" stroke="#000" stroke-width="1.6" fill="none"/>
<text transform="translate(111.5,730.2) scale(0.93,1)" font-family="Liberation Sans" font-size="36.3" text-anchor="end">0</text>
<text transform="translate(111.5,839.2) scale(0.93,1)" font-family="Liberation Sans" font-size="36.3" text-anchor="end">-10</text>
<text transform="translate(111.5,948.3) scale(0.93,1)" font-family="Liberation Sans" font-size="36.3" text-anchor="end">-20</text>
<text transform="translate(111.5,1057.3) scale(0.93,1)" font-family="Liberation Sans" font-size="36.3" text-anchor="end">-30</text>
<text transform="translate(111.5,1166.4) scale(0.93,1)" font-family="Liberation Sans" font-size="36.3" text-anchor="end">-40</text>
<text transform="translate(111.5,1275.4) scale(0.93,1)" font-family="Liberation Sans" font-size="36.3" text-anchor="end">-50</text>
<text transform="translate(111.5,1384.5) scale(0.93,1)" font-family="Liberation Sans" font-size="36.3" text-anchor="end">-60</text>
<text transform="translate(130.5,1471.8) scale(0.92,1)" font-family="Liberation Sans" font-size="36" text-anchor="middle">0</text>
<text transform="translate(248.9,1471.8) scale(0.92,1)" font-family="Liberation Sans" font-size="36" text-anchor="middle">50</text>
<text transform="translate(367.4,1471.8) scale(0.92,1)" font-family="Liberation Sans" font-size="36" text-anchor="middle">100</text>
<text transform="translate(485.8,1471.8) scale(0.92,1)" font-family="Liberation Sans" font-size="36" text-anchor="middle">150</text>
<text transform="translate(604.2,1471.8) scale(0.92,1)" font-family="Liberation Sans" font-size="36" text-anchor="middle">200</text>
<text transform="translate(722.6,1471.8) scale(0.92,1)" font-family="Liberation Sans" font-size="36" text-anchor="middle">250</text>
<text transform="translate(841.1,1471.8) scale(0.92,1)" font-family="Liberation Sans" font-size="36" text-anchor="middle">300</text>
<text transform="translate(959.5,1471.8) scale(0.92,1)" font-family="Liberation Sans" font-size="36" text-anchor="middle">350</text>
<text transform="translate(878.3,1353.5) scale(0.97,1)" font-family="Liberation Sans" font-size="46.5">(b)</text>
<defs><clipPath id="cI1"><rect x="648.3" y="677" width="346.7" height="330.8"/></clipPath></defs>
<path d="M648.3,677V694.5M706.2,677V694.5M764.1,677V694.5M822,677V694.5M879.9,677V694.5M937.8,677V694.5M995.7,677V694.5M677.2,677V686M735.1,677V686M793,677V686M850.9,677V686M908.8,677V686M966.8,677V686" stroke="#000" stroke-width="1.6" fill="none"/>
<path d="M648.3,1007.8V990.3M706.2,1007.8V990.3M764.1,1007.8V990.3M822,1007.8V990.3M879.9,1007.8V990.3M937.8,1007.8V990.3M995.7,1007.8V990.3M677.2,1007.8V998.8M735.1,1007.8V998.8M793,1007.8V998.8M850.9,1007.8V998.8M908.8,1007.8V998.8M966.8,1007.8V998.8" stroke="#000" stroke-width="1.6" fill="none"/>
<path d="M648.3,677H665.8M648.3,759.7H665.8M648.3,842.4H665.8M648.3,925.1H665.8M648.3,1007.8H665.8M648.3,718.4H657.3M648.3,801H657.3M648.3,883.8H657.3M648.3,966.5H657.3" stroke="#000" stroke-width="1.6" fill="none"/>
<g clip-path="url(#cI1)">
<path d="M659.7,928.3 L661.6,927.6 L664.6,929.7 L666.5,932.6 L667.5,939 L668.6,943.9 L669.5,949.8 L669.6,951.3 L672.4,952.7 L674.4,949 L679.2,945.9 L678.9,948.6 L681.2,954.6 L681.9,959.8 L683.1,962.4 L683.4,964.2 L686,968.3 L688.4,971 L690,970.2 L692.6,970.8 L694.8,972.2 L697.7,972.3 L697.8,976.1 L699.7,950.3 L701.7,916.6 L702.6,890.2 L706.5,874.6 L709.5,876.7 L710.4,880.5 L714.3,907.8 L716.3,891.2 L718.2,854.7 L719.2,822 L719.6,817.5 L722.1,816.1 L730,802.4 L730.4,806.6 L731.9,808.3 L731.9,815.5 L733.9,822 L737.2,824.4 L739.7,827.8 L740.8,822.2 L741.7,820 L743.6,805.4 L745.6,786.8 L746.2,781.7 L749.5,779 L752.4,781.7 L754.3,784.9 L753.7,791.1 L754.3,796.6 L759.2,769.3 L762,772.4 L765,777.1 L768.9,780.3 L771,782 L775.8,765.4 L777.5,769.6 L780.7,773.2 L784.6,786.8 L785.6,795.2 L786.5,800.5 L789.5,783.9 L792.4,761.5 L796.1,744.7 L798.4,747.6 L799.3,752.2 L802.9,754.4 L803.6,759.7 L812.2,759.7 L814.3,766.1 L817.6,776.9 L825,779 L831.5,760.8 L833.7,769.4 L839,771.5 L842.2,776.9 L848.7,779 L853,756.5 L857.3,762.9 L863.7,737.2 L863.7,752.2 L870.1,776.9 L874.4,765 L876.6,749 L878.7,754.3 L883,769.4 L891.6,758.6 L895.9,766.1 L899.1,775.8 L904.5,782.2 L910.9,771.5 L915.2,778 L919.5,756.5 L926,788.7 L928.1,776.9 L934.5,762.9 L941,758.6 L945.3,771.5 L949.6,747.9 L951.7,753.3 L956,769.4 L962.4,765 L968.9,761 L975.3,757.6 L981.8,758.6 L986,773.7 L990.3,780.1 L993.6,760.8 L999,770" stroke="#800080" stroke-width="1.2" fill="none"/>
<g stroke="#800080" stroke-width="2.6" fill="#fff"><circle cx="659.7" cy="928.3" r="6.5"/><circle cx="661.6" cy="927.6" r="6.5"/><circle cx="664.6" cy="929.7" r="6.5"/><circle cx="666.5" cy="932.6" r="6.5"/><circle cx="667.5" cy="939" r="6.5"/><circle cx="668.6" cy="943.9" r="6.5"/><circle cx="669.5" cy="949.8" r="6.5"/><circle cx="669.6" cy="951.3" r="6.5"/><circle cx="672.4" cy="952.7" r="6.5"/><circle cx="674.4" cy="949" r="6.5"/><circle cx="679.2" cy="945.9" r="6.5"/><circle cx="678.9" cy="948.6" r="6.5"/><circle cx="681.2" cy="954.6" r="6.5"/><circle cx="681.9" cy="959.8" r="6.5"/><circle cx="683.1" cy="962.4" r="6.5"/><circle cx="683.4" cy="964.2" r="6.5"/><circle cx="686" cy="968.3" r="6.5"/><circle cx="688.4" cy="971" r="6.5"/><circle cx="690" cy="970.2" r="6.5"/><circle cx="692.6" cy="970.8" r="6.5"/><circle cx="694.8" cy="972.2" r="6.5"/><circle cx="697.7" cy="972.3" r="6.5"/><circle cx="697.8" cy="976.1" r="6.5"/><circle cx="699.7" cy="950.3" r="6.5"/><circle cx="701.7" cy="916.6" r="6.5"/><circle cx="702.6" cy="890.2" r="6.5"/><circle cx="706.5" cy="874.6" r="6.5"/><circle cx="709.5" cy="876.7" r="6.5"/><circle cx="710.4" cy="880.5" r="6.5"/><circle cx="714.3" cy="907.8" r="6.5"/><circle cx="716.3" cy="891.2" r="6.5"/><circle cx="718.2" cy="854.7" r="6.5"/><circle cx="719.2" cy="822" r="6.5"/><circle cx="719.6" cy="817.5" r="6.5"/><circle cx="722.1" cy="816.1" r="6.5"/><circle cx="730" cy="802.4" r="6.5"/><circle cx="730.4" cy="806.6" r="6.5"/><circle cx="731.9" cy="808.3" r="6.5"/><circle cx="731.9" cy="815.5" r="6.5"/><circle cx="733.9" cy="822" r="6.5"/><circle cx="737.2" cy="824.4" r="6.5"/><circle cx="739.7" cy="827.8" r="6.5"/><circle cx="740.8" cy="822.2" r="6.5"/><circle cx="741.7" cy="820" r="6.5"/><circle cx="743.6" cy="805.4" r="6.5"/><circle cx="745.6" cy="786.8" r="6.5"/><circle cx="746.2" cy="781.7" r="6.5"/><circle cx="749.5" cy="779" r="6.5"/><circle cx="752.4" cy="781.7" r="6.5"/><circle cx="754.3" cy="784.9" r="6.5"/><circle cx="753.7" cy="791.1" r="6.5"/><circle cx="754.3" cy="796.6" r="6.5"/><circle cx="759.2" cy="769.3" r="6.5"/><circle cx="762" cy="772.4" r="6.5"/><circle cx="765" cy="777.1" r="6.5"/><circle cx="768.9" cy="780.3" r="6.5"/><circle cx="771" cy="782" r="6.5"/><circle cx="775.8" cy="765.4" r="6.5"/><circle cx="777.5" cy="769.6" r="6.5"/><circle cx="780.7" cy="773.2" r="6.5"/><circle cx="784.6" cy="786.8" r="6.5"/><circle cx="785.6" cy="795.2" r="6.5"/><circle cx="786.5" cy="800.5" r="6.5"/><circle cx="789.5" cy="783.9" r="6.5"/><circle cx="792.4" cy="761.5" r="6.5"/><circle cx="796.1" cy="744.7" r="6.5"/><circle cx="798.4" cy="747.6" r="6.5"/><circle cx="799.3" cy="752.2" r="6.5"/><circle cx="802.9" cy="754.4" r="6.5"/><circle cx="803.6" cy="759.7" r="6.5"/><circle cx="812.2" cy="759.7" r="6.5"/><circle cx="814.3" cy="766.1" r="6.5"/><circle cx="817.6" cy="776.9" r="6.5"/><circle cx="825" cy="779" r="6.5"/><circle cx="831.5" cy="760.8" r="6.5"/><circle cx="833.7" cy="769.4" r="6.5"/><circle cx="839" cy="771.5" r="6.5"/><circle cx="842.2" cy="776.9" r="6.5"/><circle cx="848.7" cy="779" r="6.5"/><circle cx="853" cy="756.5" r="6.5"/><circle cx="857.3" cy="762.9" r="6.5"/><circle cx="863.7" cy="737.2" r="6.5"/><circle cx="863.7" cy="752.2" r="6.5"/><circle cx="870.1" cy="776.9" r="6.5"/><circle cx="874.4" cy="765" r="6.5"/><circle cx="876.6" cy="749" r="6.5"/><circle cx="878.7" cy="754.3" r="6.5"/><circle cx="883" cy="769.4" r="6.5"/><circle cx="891.6" cy="758.6" r="6.5"/><circle cx="895.9" cy="766.1" r="6.5"/><circle cx="899.1" cy="775.8" r="6.5"/><circle cx="904.5" cy="782.2" r="6.5"/><circle cx="910.9" cy="771.5" r="6.5"/><circle cx="915.2" cy="778" r="6.5"/><circle cx="919.5" cy="756.5" r="6.5"/><circle cx="926" cy="788.7" r="6.5"/><circle cx="928.1" cy="776.9" r="6.5"/><circle cx="934.5" cy="762.9" r="6.5"/><circle cx="941" cy="758.6" r="6.5"/><circle cx="945.3" cy="771.5" r="6.5"/><circle cx="949.6" cy="747.9" r="6.5"/><circle cx="951.7" cy="753.3" r="6.5"/><circle cx="956" cy="769.4" r="6.5"/><circle cx="962.4" cy="765" r="6.5"/><circle cx="968.9" cy="761" r="6.5"/><circle cx="975.3" cy="757.6" r="6.5"/><circle cx="981.8" cy="758.6" r="6.5"/><circle cx="986" cy="773.7" r="6.5"/><circle cx="990.3" cy="780.1" r="6.5"/><circle cx="993.6" cy="760.8" r="6.5"/><circle cx="999" cy="770" r="6.5"/></g>
</g>
<path d="M648.3,677V1007.8H995M648.3,677H995" stroke="#000" stroke-width="1.5" fill="none"/>
<text x="635" y="686" font-family="Liberation Sans" font-size="25" text-anchor="end">-0.12</text>
<text x="635" y="768.7" font-family="Liberation Sans" font-size="25" text-anchor="end">-0.14</text>
<text x="635" y="851.4" font-family="Liberation Sans" font-size="25" text-anchor="end">-0.16</text>
<text x="635" y="934.1" font-family="Liberation Sans" font-size="25" text-anchor="end">-0.18</text>
<text x="635" y="1016.8" font-family="Liberation Sans" font-size="25" text-anchor="end">-0.20</text>
<text x="648.3" y="1046.3" font-family="Liberation Sans" font-size="25" text-anchor="middle">0</text>
<text x="706.2" y="1046.3" font-family="Liberation Sans" font-size="25" text-anchor="middle">25</text>
<text x="764.1" y="1046.3" font-family="Liberation Sans" font-size="25" text-anchor="middle">50</text>
<text x="822" y="1046.3" font-family="Liberation Sans" font-size="25" text-anchor="middle">75</text>
<text x="879.9" y="1046.3" font-family="Liberation Sans" font-size="25" text-anchor="middle">100</text>
<text x="937.8" y="1046.3" font-family="Liberation Sans" font-size="25" text-anchor="middle">125</text>
<text x="851" y="1080" font-family="Liberation Sans" font-size="30" text-anchor="middle"><tspan font-style="italic">T</tspan>(K)</text>
<text transform="translate(561,864.3) rotate(-90)" font-family="Liberation Sans" font-size="30" text-anchor="middle">d<tspan font-style="italic">S</tspan>(<tspan font-style="italic">T</tspan>)/d<tspan font-style="italic">T</tspan></text>
<text x="808.5" y="888" font-family="Liberation Sans" font-size="41" font-style="italic">T</text>
<text x="833" y="904" font-family="Liberation Sans" font-size="24">sl</text>
<path d="M801,891.3 L720,963" stroke="#000" stroke-width="1.7" fill="none"/>
<path d="M711.4,972.1 L720.2,957.2 L729,967.8Z" fill="#000" stroke="#000" stroke-width="0.6"/>
<rect x="200.2" y="1051.1" width="417.4" height="302.1" fill="#fff" stroke="#000" stroke-width="1.5"/>
<path d="M200.2,1152.5H617.6" stroke="#000" stroke-width="1.3"/>
<defs><clipPath id="cI2"><rect x="200.2" y="1051.1" width="417.4" height="302.1"/></clipPath></defs>
<g clip-path="url(#cI2)">
<path d="M220,1312.4 L221.9,1306.9 L217.3,1277.8 L222.8,1286 L226.4,1274.1 L228.2,1266.8 L231.9,1257.7 L233.7,1247.7 L236.4,1231.3 L239.2,1216.7 L242.8,1199.4 L246.5,1186.7 L249.2,1172.1 L252.8,1161.1 L255.6,1148.4 L259.2,1140.2 L262.9,1132.9 L267.4,1128.3 L271.1,1118.3 L276.5,1112.8 L282,1107.4 L287.5,1103.7 L293,1103.7 L302,1100.1 L309.3,1096.4 L320.3,1095.5 L325.3,1095.5 L330.3,1095.5 L335.3,1095.4 L340.3,1095.3 L345.3,1095.3 L350.3,1095.2 L355.3,1095.1 L360.3,1094.9 L365.3,1094.8 L370.3,1094.7 L375.3,1094.5 L380.3,1094.4 L385.3,1094.2 L390.3,1094 L395.3,1093.8 L400.3,1093.6 L405.3,1093.3 L410.3,1093.1 L415.3,1092.9 L420.3,1092.6 L425.3,1092.4 L430.3,1092.1 L435.3,1091.8 L440.3,1091.5 L445.3,1091.2 L450.3,1090.9 L455.3,1090.6 L460.3,1090.2 L465.3,1089.9 L470.3,1089.5 L475.3,1089.2 L480.3,1088.8 L485.3,1088.4 L490.3,1088 L495.3,1087.6 L500.3,1087.2 L505.3,1086.8 L510.3,1086.3 L515.3,1085.9 L520.3,1085.5 L525.3,1085 L530.3,1084.5 L535.3,1084.1 L540.3,1083.6 L545.3,1083.1 L550.3,1082.6 L555.3,1082.1 L569.3,1080.6 L574.8,1080 L580.3,1079.4 L585.8,1078.8 L591.3,1078.1 L596.8,1077.5 L602.3,1076.9 L607.8,1076.2 L613.3,1075.5 L618.8,1074.9" stroke="#ff8000" stroke-width="1.2" fill="none"/>
<g stroke="#ff8000" stroke-width="2.2" fill="#fff"><circle cx="220" cy="1312.4" r="5.8"/><circle cx="221.9" cy="1306.9" r="5.8"/><circle cx="217.3" cy="1277.8" r="5.8"/><circle cx="222.8" cy="1286" r="5.8"/><circle cx="226.4" cy="1274.1" r="5.8"/><circle cx="228.2" cy="1266.8" r="5.8"/><circle cx="231.9" cy="1257.7" r="5.8"/><circle cx="233.7" cy="1247.7" r="5.8"/><circle cx="236.4" cy="1231.3" r="5.8"/><circle cx="239.2" cy="1216.7" r="5.8"/><circle cx="242.8" cy="1199.4" r="5.8"/><circle cx="246.5" cy="1186.7" r="5.8"/><circle cx="249.2" cy="1172.1" r="5.8"/><circle cx="252.8" cy="1161.1" r="5.8"/><circle cx="255.6" cy="1148.4" r="5.8"/><circle cx="259.2" cy="1140.2" r="5.8"/><circle cx="262.9" cy="1132.9" r="5.8"/><circle cx="267.4" cy="1128.3" r="5.8"/><circle cx="271.1" cy="1118.3" r="5.8"/><circle cx="276.5" cy="1112.8" r="5.8"/><circle cx="282" cy="1107.4" r="5.8"/><circle cx="287.5" cy="1103.7" r="5.8"/><circle cx="293" cy="1103.7" r="5.8"/><circle cx="302" cy="1100.1" r="5.8"/><circle cx="309.3" cy="1096.4" r="5.8"/><circle cx="320.3" cy="1095.5" r="5.8"/><circle cx="325.3" cy="1095.5" r="5.8"/><circle cx="330.3" cy="1095.5" r="5.8"/><circle cx="335.3" cy="1095.4" r="5.8"/><circle cx="340.3" cy="1095.3" r="5.8"/><circle cx="345.3" cy="1095.3" r="5.8"/><circle cx="350.3" cy="1095.2" r="5.8"/><circle cx="355.3" cy="1095.1" r="5.8"/><circle cx="360.3" cy="1094.9" r="5.8"/><circle cx="365.3" cy="1094.8" r="5.8"/><circle cx="370.3" cy="1094.7" r="5.8"/><circle cx="375.3" cy="1094.5" r="5.8"/><circle cx="380.3" cy="1094.4" r="5.8"/><circle cx="385.3" cy="1094.2" r="5.8"/><circle cx="390.3" cy="1094" r="5.8"/><circle cx="395.3" cy="1093.8" r="5.8"/><circle cx="400.3" cy="1093.6" r="5.8"/><circle cx="405.3" cy="1093.3" r="5.8"/><circle cx="410.3" cy="1093.1" r="5.8"/><circle cx="415.3" cy="1092.9" r="5.8"/><circle cx="420.3" cy="1092.6" r="5.8"/><circle cx="425.3" cy="1092.4" r="5.8"/><circle cx="430.3" cy="1092.1" r="5.8"/><circle cx="435.3" cy="1091.8" r="5.8"/><circle cx="440.3" cy="1091.5" r="5.8"/><circle cx="445.3" cy="1091.2" r="5.8"/><circle cx="450.3" cy="1090.9" r="5.8"/><circle cx="455.3" cy="1090.6" r="5.8"/><circle cx="460.3" cy="1090.2" r="5.8"/><circle cx="465.3" cy="1089.9" r="5.8"/><circle cx="470.3" cy="1089.5" r="5.8"/><circle cx="475.3" cy="1089.2" r="5.8"/><circle cx="480.3" cy="1088.8" r="5.8"/><circle cx="485.3" cy="1088.4" r="5.8"/><circle cx="490.3" cy="1088" r="5.8"/><circle cx="495.3" cy="1087.6" r="5.8"/><circle cx="500.3" cy="1087.2" r="5.8"/><circle cx="505.3" cy="1086.8" r="5.8"/><circle cx="510.3" cy="1086.3" r="5.8"/><circle cx="515.3" cy="1085.9" r="5.8"/><circle cx="520.3" cy="1085.5" r="5.8"/><circle cx="525.3" cy="1085" r="5.8"/><circle cx="530.3" cy="1084.5" r="5.8"/><circle cx="535.3" cy="1084.1" r="5.8"/><circle cx="540.3" cy="1083.6" r="5.8"/><circle cx="545.3" cy="1083.1" r="5.8"/><circle cx="550.3" cy="1082.6" r="5.8"/><circle cx="555.3" cy="1082.1" r="5.8"/><circle cx="569.3" cy="1080.6" r="5.8"/><circle cx="574.8" cy="1080" r="5.8"/><circle cx="580.3" cy="1079.4" r="5.8"/><circle cx="585.8" cy="1078.8" r="5.8"/><circle cx="591.3" cy="1078.1" r="5.8"/><circle cx="596.8" cy="1077.5" r="5.8"/><circle cx="602.3" cy="1076.9" r="5.8"/><circle cx="607.8" cy="1076.2" r="5.8"/><circle cx="613.3" cy="1075.5" r="5.8"/><circle cx="618.8" cy="1074.9" r="5.8"/></g>
<path d="M200.2,1152.5 Q255,1122 318.4,1096.4" stroke="#000080" stroke-width="3" stroke-dasharray="0.1,6.2" stroke-linecap="round" fill="none"/>
</g>
<path d="M200.2,1051.1V1068.6M259.8,1051.1V1068.6M319.5,1051.1V1068.6M379.1,1051.1V1068.6M438.7,1051.1V1068.6M498.3,1051.1V1068.6M558,1051.1V1068.6M617.6,1051.1V1068.6M230,1051.1V1060.1M289.6,1051.1V1060.1M349.3,1051.1V1060.1M408.9,1051.1V1060.1M468.5,1051.1V1060.1M528.2,1051.1V1060.1M587.8,1051.1V1060.1" stroke="#000" stroke-width="1.6" fill="none"/>
<path d="M200.2,1353.2V1335.7M259.8,1353.2V1335.7M319.5,1353.2V1335.7M379.1,1353.2V1335.7M438.7,1353.2V1335.7M498.3,1353.2V1335.7M558,1353.2V1335.7M617.6,1353.2V1335.7M230,1353.2V1344.2M289.6,1353.2V1344.2M349.3,1353.2V1344.2M408.9,1353.2V1344.2M468.5,1353.2V1344.2M528.2,1353.2V1344.2M587.8,1353.2V1344.2" stroke="#000" stroke-width="1.6" fill="none"/>
<path d="M200.2,1094.9H217.7M200.2,1152.5H217.7M200.2,1210.1H217.7M200.2,1267.7H217.7M200.2,1325.3H217.7M200.2,1066.1H209.2M200.2,1123.7H209.2M200.2,1181.3H209.2M200.2,1238.9H209.2M200.2,1296.5H209.2" stroke="#000" stroke-width="1.6" fill="none"/>
<path d="M617.6,1094.9H600.1M617.6,1152.5H600.1M617.6,1210.1H600.1M617.6,1267.7H600.1M617.6,1325.3H600.1M617.6,1066.1H608.6M617.6,1123.7H608.6M617.6,1181.3H608.6M617.6,1238.9H608.6M617.6,1296.5H608.6" stroke="#000" stroke-width="1.6" fill="none"/>
<text transform="translate(182.8,1103.2) scale(0.95,1)" font-family="Liberation Sans" font-size="26" text-anchor="end">1</text>
<text transform="translate(182.8,1160.8) scale(0.95,1)" font-family="Liberation Sans" font-size="26" text-anchor="end">0</text>
<text transform="translate(182.8,1218.4) scale(0.95,1)" font-family="Liberation Sans" font-size="26" text-anchor="end">-1</text>
<text transform="translate(182.8,1276) scale(0.95,1)" font-family="Liberation Sans" font-size="26" text-anchor="end">-2</text>
<text transform="translate(182.8,1333.6) scale(0.95,1)" font-family="Liberation Sans" font-size="26" text-anchor="end">-3</text>
<text transform="translate(200.2,1392.2) scale(1.03,1)" font-family="Liberation Sans" font-size="25.3" text-anchor="middle">0</text>
<text transform="translate(259.8,1392.2) scale(1.03,1)" font-family="Liberation Sans" font-size="25.3" text-anchor="middle">25</text>
<text transform="translate(319.5,1392.2) scale(1.03,1)" font-family="Liberation Sans" font-size="25.3" text-anchor="middle">50</text>
<text transform="translate(379.1,1392.2) scale(1.03,1)" font-family="Liberation Sans" font-size="25.3" text-anchor="middle">75</text>
<text transform="translate(438.7,1392.2) scale(1.03,1)" font-family="Liberation Sans" font-size="25.3" text-anchor="middle">100</text>
<text transform="translate(498.3,1392.2) scale(1.03,1)" font-family="Liberation Sans" font-size="25.3" text-anchor="middle">125</text>
<text transform="translate(558,1392.2) scale(1.03,1)" font-family="Liberation Sans" font-size="25.3" text-anchor="middle">150</text>
<text transform="translate(617.6,1392.2) scale(1.03,1)" font-family="Liberation Sans" font-size="25.3" text-anchor="middle">175</text>
<path d="M415.6,1127.8H492" stroke="#ff8000" stroke-width="1.5"/>
<circle cx="453.8" cy="1127.8" r="5.5" stroke="#ff8000" stroke-width="1.8" fill="#fff"/>
<text x="501" y="1140" font-family="Liberation Sans" font-size="33">Au</text>
<text x="355" y="1214" font-family="Liberation Sans" font-size="25.2">Phonon drag</text>
<text x="314.6" y="1333" font-family="Liberation Sans" font-size="25.2">Kondo anomaly</text>
<path d="M345.6,1204.2 L321.4,1172.6 Q309,1152 299.5,1128" stroke="#000" stroke-width="1.7" fill="none"/>
<path d="M297.6,1112.1 L292.1,1134.3 L302.2,1133.6Z" fill="#000" stroke="#000" stroke-width="0.6"/>
<path d="M313.4,1334.6 C290,1334.5 272,1331 252,1323" stroke="#000" stroke-width="1.7" fill="none"/>
<path d="M237.3,1316.6 L260.2,1318.5 L256.3,1328.8Z" fill="#000" stroke="#000" stroke-width="0.6"/>
<g clip-path="url(#cBot)">
<g stroke="#0000ff" stroke-width="1.6" fill="#fff"><circle cx="141.8" cy="725.6" r="8.8"/><circle cx="142.7" cy="726.3" r="8.8"/><circle cx="143.5" cy="727" r="8.8"/><circle cx="144.3" cy="727.7" r="8.8"/><circle cx="145.2" cy="728.4" r="8.8"/><circle cx="146" cy="729.1" r="8.8"/><circle cx="146.8" cy="729.7" r="8.8"/><circle cx="147.6" cy="730.4" r="8.8"/><circle cx="148.5" cy="731.1" r="8.8"/><circle cx="149.3" cy="731.8" r="8.8"/><circle cx="150.1" cy="732.5" r="8.8"/><circle cx="151" cy="733.2" r="8.8"/><circle cx="151.8" cy="733.9" r="8.8"/><circle cx="152.6" cy="734.6" r="8.8"/><circle cx="153.4" cy="735.3" r="8.8"/><circle cx="154.3" cy="735.9" r="8.8"/><circle cx="155.1" cy="736.6" r="8.8"/><circle cx="155.9" cy="737.3" r="8.8"/><circle cx="156.8" cy="738" r="8.8"/><circle cx="157.6" cy="738.7" r="8.8"/><circle cx="158.4" cy="739.4" r="8.8"/><circle cx="159.3" cy="740.1" r="8.8"/><circle cx="160.7" cy="741.2" r="8.8"/><circle cx="162.1" cy="742.4" r="8.8"/><circle cx="163.5" cy="743.6" r="8.8"/><circle cx="164.9" cy="744.7" r="8.8"/><circle cx="166.4" cy="745.9" r="8.8"/><circle cx="167.8" cy="747.1" r="8.8"/><circle cx="169.2" cy="748.2" r="8.8"/><circle cx="170.6" cy="749.4" r="8.8"/><circle cx="172" cy="750.6" r="8.8"/><circle cx="173.5" cy="751.7" r="8.8"/><circle cx="174.9" cy="752.9" r="8.8"/><circle cx="176.3" cy="754" r="8.8"/><circle cx="177.7" cy="755.2" r="8.8"/><circle cx="180.6" cy="757.5" r="8.8"/><circle cx="183.4" cy="759.8" r="8.8"/><circle cx="186.3" cy="762.1" r="8.8"/><circle cx="189.1" cy="764.4" r="8.8"/><circle cx="191.9" cy="766.6" r="8.8"/><circle cx="194.8" cy="768.9" r="8.8"/><circle cx="197.6" cy="771.1" r="8.8"/><circle cx="200.5" cy="773.4" r="8.8"/><circle cx="203.3" cy="775.6" r="8.8"/><circle cx="208.8" cy="779.9" r="8.8"/><circle cx="214.2" cy="784" r="8.8"/><circle cx="219.7" cy="788.2" r="8.8"/><circle cx="225.1" cy="792.3" r="8.8"/><circle cx="230.5" cy="796.3" r="8.8"/><circle cx="236" cy="800.3" r="8.8"/><circle cx="241.4" cy="804.2" r="8.8"/><circle cx="246.9" cy="808" r="8.8"/><circle cx="252.3" cy="811.9" r="8.8"/><circle cx="257.8" cy="815.7" r="8.8"/><circle cx="263.2" cy="819.4" r="8.8"/><circle cx="268.7" cy="823.1" r="8.8"/><circle cx="274.1" cy="826.8" r="8.8"/><circle cx="279.6" cy="830.5" r="8.8"/><circle cx="285" cy="834.1" r="8.8"/><circle cx="290.5" cy="837.7" r="8.8"/><circle cx="295.9" cy="841.4" r="8.8"/><circle cx="301.4" cy="844.9" r="8.8"/><circle cx="306.8" cy="848.5" r="8.8"/><circle cx="312.3" cy="852.1" r="8.8"/><circle cx="317.7" cy="855.6" r="8.8"/><circle cx="323.2" cy="859.2" r="8.8"/><circle cx="328.6" cy="862.7" r="8.8"/><circle cx="334.1" cy="866.3" r="8.8"/><circle cx="339.5" cy="869.8" r="8.8"/><circle cx="345" cy="873.3" r="8.8"/><circle cx="350.4" cy="876.8" r="8.8"/><circle cx="355.8" cy="880.4" r="8.8"/><circle cx="361.3" cy="883.9" r="8.8"/><circle cx="366.7" cy="887.4" r="8.8"/><circle cx="372.2" cy="890.9" r="8.8"/><circle cx="377.6" cy="894.4" r="8.8"/><circle cx="383.1" cy="897.9" r="8.8"/><circle cx="388.5" cy="901.4" r="8.8"/><circle cx="394" cy="904.9" r="8.8"/><circle cx="399.4" cy="908.4" r="8.8"/><circle cx="404.9" cy="911.9" r="8.8"/><circle cx="410.3" cy="915.3" r="8.8"/><circle cx="415.8" cy="918.8" r="8.8"/><circle cx="421.2" cy="922.3" r="8.8"/><circle cx="426.7" cy="925.8" r="8.8"/><circle cx="432.1" cy="929.3" r="8.8"/><circle cx="437.6" cy="932.8" r="8.8"/><circle cx="443" cy="936.2" r="8.8"/><circle cx="448.5" cy="939.7" r="8.8"/><circle cx="453.9" cy="943.2" r="8.8"/><circle cx="459.4" cy="946.7" r="8.8"/><circle cx="464.8" cy="950.2" r="8.8"/><circle cx="470.2" cy="953.6" r="8.8"/><circle cx="475.7" cy="957.1" r="8.8"/><circle cx="481.1" cy="960.6" r="8.8"/><circle cx="486.6" cy="964.1" r="8.8"/><circle cx="492" cy="967.5" r="8.8"/><circle cx="497.5" cy="971" r="8.8"/><circle cx="502.9" cy="974.5" r="8.8"/><circle cx="508.4" cy="977.9" r="8.8"/><circle cx="513.8" cy="981.4" r="8.8"/><circle cx="519.3" cy="984.9" r="8.8"/><circle cx="524.7" cy="988.4" r="8.8"/><circle cx="530.2" cy="991.8" r="8.8"/><circle cx="535.6" cy="995.3" r="8.8"/><circle cx="541.1" cy="998.8" r="8.8"/><circle cx="546.5" cy="1002.2" r="8.8"/><circle cx="552" cy="1005.7" r="8.8"/><circle cx="557.4" cy="1009.2" r="8.8"/><circle cx="562.9" cy="1012.6" r="8.8"/><circle cx="568.3" cy="1016.1" r="8.8"/><circle cx="573.8" cy="1019.6" r="8.8"/><circle cx="579.2" cy="1023" r="8.8"/><circle cx="584.7" cy="1026.5" r="8.8"/><circle cx="590.1" cy="1030" r="8.8"/><circle cx="595.5" cy="1033.4" r="8.8"/><circle cx="601" cy="1036.9" r="8.8"/><circle cx="606.4" cy="1040.4" r="8.8"/><circle cx="611.9" cy="1043.8" r="8.8"/><circle cx="617.3" cy="1047.3" r="8.8"/><circle cx="622.8" cy="1050.8" r="8.8"/><circle cx="628.2" cy="1054.2" r="8.8"/><circle cx="633.7" cy="1057.7" r="8.8"/><circle cx="639.1" cy="1061.2" r="8.8"/><circle cx="644.6" cy="1064.6" r="8.8"/><circle cx="650" cy="1068.1" r="8.8"/><circle cx="655.5" cy="1071.6" r="8.8"/><circle cx="660.9" cy="1075" r="8.8"/><circle cx="666.4" cy="1078.5" r="8.8"/><circle cx="671.8" cy="1082" r="8.8"/><circle cx="677.3" cy="1085.4" r="8.8"/><circle cx="682.7" cy="1088.9" r="8.8"/><circle cx="688.2" cy="1092.3" r="8.8"/><circle cx="693.6" cy="1095.8" r="8.8"/><circle cx="699.1" cy="1099.3" r="8.8"/><circle cx="704.5" cy="1102.7" r="8.8"/><circle cx="710" cy="1106.2" r="8.8"/><circle cx="715.4" cy="1109.7" r="8.8"/><circle cx="720.8" cy="1113.1" r="8.8"/><circle cx="726.3" cy="1116.6" r="8.8"/><circle cx="731.7" cy="1120.1" r="8.8"/><circle cx="737.2" cy="1123.5" r="8.8"/><circle cx="742.6" cy="1127" r="8.8"/><circle cx="748.1" cy="1130.4" r="8.8"/><circle cx="753.5" cy="1133.9" r="8.8"/><circle cx="759" cy="1137.4" r="8.8"/><circle cx="764.4" cy="1140.8" r="8.8"/><circle cx="769.9" cy="1144.3" r="8.8"/><circle cx="775.3" cy="1147.8" r="8.8"/><circle cx="780.8" cy="1151.2" r="8.8"/><circle cx="786.2" cy="1154.7" r="8.8"/><circle cx="791.7" cy="1158.1" r="8.8"/><circle cx="797.1" cy="1161.6" r="8.8"/><circle cx="802.6" cy="1165.1" r="8.8"/><circle cx="808" cy="1168.5" r="8.8"/><circle cx="813.5" cy="1172" r="8.8"/><circle cx="818.9" cy="1175.4" r="8.8"/><circle cx="824.4" cy="1178.9" r="8.8"/><circle cx="829.8" cy="1182.4" r="8.8"/><circle cx="835.3" cy="1185.8" r="8.8"/><circle cx="840.7" cy="1189.3" r="8.8"/><circle cx="846.1" cy="1192.8" r="8.8"/><circle cx="851.6" cy="1196.2" r="8.8"/><circle cx="857" cy="1199.7" r="8.8"/><circle cx="862.5" cy="1203.1" r="8.8"/><circle cx="867.9" cy="1206.6" r="8.8"/><circle cx="873.4" cy="1210.1" r="8.8"/><circle cx="878.8" cy="1213.5" r="8.8"/><circle cx="884.3" cy="1217" r="8.8"/><circle cx="889.7" cy="1220.4" r="8.8"/><circle cx="895.2" cy="1223.9" r="8.8"/><circle cx="900.6" cy="1227.4" r="8.8"/><circle cx="906.1" cy="1230.8" r="8.8"/><circle cx="911.5" cy="1234.3" r="8.8"/><circle cx="917" cy="1237.8" r="8.8"/><circle cx="922.4" cy="1241.2" r="8.8"/><circle cx="927.9" cy="1244.7" r="8.8"/><circle cx="933.3" cy="1248.1" r="8.8"/><circle cx="938.8" cy="1251.6" r="8.8"/><circle cx="949.5" cy="1258.4" r="8.8"/></g>
<path d="M130,718 L426.2,970.2" stroke="#000" stroke-width="1.45" fill="none"/>
<path d="M130,738.3 L984.3,1281.3" stroke="#000" stroke-width="1.45" fill="none"/>
</g>
<rect x="379.7" y="1400" width="60.6" height="32" fill="#fff"/>
<text x="411" y="1421.5" font-family="Liberation Sans" font-size="31" text-anchor="middle"><tspan font-style="italic">T</tspan>(K)</text>
<rect x="128" y="1150" width="33" height="106" fill="#fff"/>
<text transform="translate(152.8,1204.3) rotate(-90)" font-family="Liberation Sans" font-size="30" text-anchor="middle">S(<tspan font-family="Liberation Serif">μ</tspan>V/K)</text>
<text transform="translate(33.7,574.5) rotate(-90)" font-family="Liberation Sans" font-size="45">Themopower <tspan>S</tspan>(<tspan font-family="Liberation Serif">μ</tspan>V/K)</text>
<text transform="translate(41.5,1331) rotate(-90)" font-family="Liberation Sans" font-size="48.5">Themopower <tspan>S</tspan>(<tspan font-family="Liberation Serif">μ</tspan>V/K)</text>
<text transform="translate(388,1520) scale(0.98,1)" font-family="Liberation Sans" font-size="50">Temperature <tspan font-style="italic">T</tspan>(K)</text>
</svg></body></html>
